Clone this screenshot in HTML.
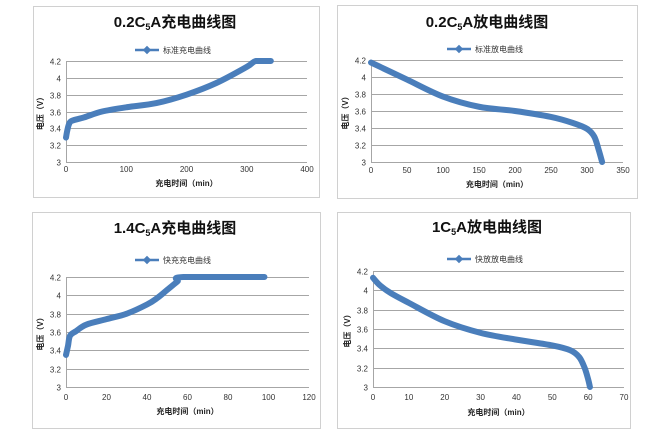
<!DOCTYPE html>
<html><head><meta charset="utf-8"><style>
html,body{margin:0;padding:0;background:#fff;}
svg{display:block;font-family:"Liberation Sans","Noto Sans CJK SC",sans-serif;}
</style></head><body>
<svg id="s" width="650" height="445" viewBox="0 0 650 445" xmlns="http://www.w3.org/2000/svg"></svg>
<script>
const charts=[
 {frame:[33,6,319,197],x0:66,x1:307,xmax:400,xstep:100,y0:61,y1:162,title:"0.2C",tA:"A充电曲线图",ty:27,leg:"标准充电曲线",ly:53,tx:175,lx:175,tl:172,at:186,
  pts:[[0,3.29],[2,3.37],[5,3.45],[10,3.49],[30,3.53],[60,3.6],[100,3.65],[150,3.7],[200,3.8],[250,3.94],[300,4.13],[315,4.2],[340,4.2]]},
 {frame:[337,5,637,198],x0:371,x1:623,xmax:350,xstep:50,y0:60,y1:162,title:"0.2C",tA:"A放电曲线图",ty:27,leg:"标准放电曲线",ly:52,tx:487,lx:487,tl:173,at:187,
  pts:[[0,4.17],[20,4.09],[50,3.97],[100,3.77],[150,3.65],[200,3.6],[250,3.53],[280,3.46],[300,3.39],[310,3.3],[316,3.15],[321,3.0]]},
 {frame:[32,212,320,428],x0:66,x1:309,xmax:120,xstep:20,y0:277,y1:387,title:"1.4C",tA:"A充电曲线图",ty:233,leg:"快充充电曲线",ly:263,tx:175,lx:175,tl:400,at:414,
  pts:[[0,3.35],[1,3.45],[2,3.56],[5,3.61],[10,3.68],[20,3.74],[30,3.8],[40,3.9],[45,3.97],[50,4.06],[55,4.15],[58,4.2],[98,4.2]]},
 {frame:[337,212,630,428],x0:373,x1:624,xmax:70,xstep:10,y0:271,y1:387,title:"1C",tA:"A放电曲线图",ty:232,leg:"快放放电曲线",ly:262,tx:487,lx:487,tl:400,at:415,
  pts:[[0,4.13],[2,4.05],[5,3.97],[10,3.87],[20,3.68],[30,3.56],[40,3.49],[50,3.43],[55,3.38],[57.5,3.31],[59,3.2],[60,3.08],[60.5,3.0]]}
];
let h="";
const C="#4a7ebb";
for(const c of charts){
 const [fx0,fy0,fx1,fy1]=c.frame;
 h+=`<rect x="${fx0+.5}" y="${fy0+.5}" width="${fx1-fx0}" height="${fy1-fy0}" fill="#fff" stroke="#d0d0d0"/>`;
 const X=v=>c.x0+(c.x1-c.x0)*v/c.xmax, Y=v=>c.y1-(c.y1-c.y0)*(v-3)/1.2;
 for(let i=0;i<=6;i++){const v=3+i*0.2,y=Math.round(Y(v))+.5;
  h+=`<line x1="${c.x0}" y1="${y}" x2="${c.x1}" y2="${y}" stroke="#a6a6a6" stroke-width="1"/>`;
  h+=`<text x="${c.x0-5}" y="${y+3}" font-size="8" text-anchor="end" fill="#333">${i==0?"3":i==5?"4":v.toFixed(1)}</text>`;}
 h+=`<line x1="${c.x0+.5}" y1="${c.y0}" x2="${c.x0+.5}" y2="${c.y1}" stroke="#a6a6a6"/>`;
 for(let v=0;v<=c.xmax;v+=c.xstep){h+=`<text x="${X(v)}" y="${c.tl}" font-size="8" text-anchor="middle" fill="#333">${v}</text>`;}
 h+=`<text x="${(c.x0+c.x1)/2}" y="${c.at}" font-size="8" font-weight="bold" text-anchor="middle" fill="#222">充电时间（min）</text>`;
 const ym=(c.y0+c.y1)/2;
 h+=`<text transform="translate(${c.x0-23},${ym}) rotate(-90)" font-size="8" font-weight="bold" text-anchor="middle" fill="#222">电压（V）</text>`;
 h+=`<text x="${c.tx}" y="${c.ty}" font-size="15" font-weight="bold" text-anchor="middle" fill="#111">${c.title}<tspan font-size="9" dy="3">5</tspan><tspan dy="-3">${c.tA}</tspan></text>`;
 h+=`<line x1="${c.lx-40}" y1="${c.ly-3}" x2="${c.lx-16}" y2="${c.ly-3}" stroke="${C}" stroke-width="2.5"/><rect x="${c.lx-31}" y="${c.ly-6}" width="6" height="6" fill="${C}" transform="rotate(45 ${c.lx-28} ${c.ly-3})"/>`;
 h+=`<text x="${c.lx-12}" y="${c.ly}" font-size="8" fill="#333">${c.leg}</text>`;
 const P=c.pts.map(p=>[X(p[0]),Y(p[1])]);
 const top=Y(4.2),bot=Y(3);
 const cl=y=>Math.min(bot,Math.max(top,y));
 let d=`M${P[0][0]},${P[0][1]}`;
 for(let i=0;i<P.length-1;i++){const p0=P[Math.max(0,i-1)],p1=P[i],p2=P[i+1],p3=P[Math.min(P.length-1,i+2)];
  d+=` C${p1[0]+(p2[0]-p0[0])/6},${cl(p1[1]+(p2[1]-p0[1])/6)} ${p2[0]-(p3[0]-p1[0])/6},${cl(p2[1]-(p3[1]-p1[1])/6)} ${p2[0]},${p2[1]}`;}
 h+=`<path d="${d}" fill="none" stroke="${C}" stroke-width="6" stroke-linecap="round" stroke-linejoin="round"/>`;
}
document.getElementById("s").innerHTML=h;
</script>
</body></html>
